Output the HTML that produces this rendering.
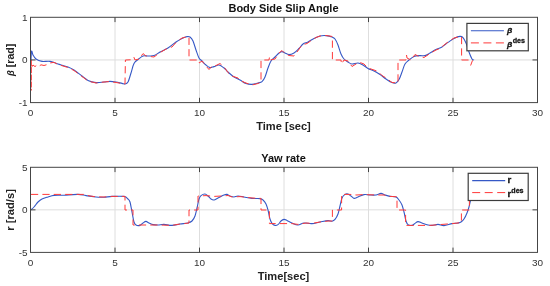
<!DOCTYPE html>
<html><head><meta charset="utf-8"><title>plot</title>
<style>
html,body{margin:0;padding:0;background:#fff;}
svg{display:block}
text{font-family:"Liberation Sans",sans-serif;fill:#222;}
.tk{font-size:9.5px;fill:#333}
.ti{font-size:10px;font-weight:bold;fill:#111}
.lb{font-size:10px;font-weight:bold;fill:#222}
.lg{font-size:8.6px;font-weight:bold;fill:#111;stroke:#111;stroke-width:0.25px}
</style></head><body>
<svg width="550" height="286" viewBox="0 0 550 286">
<rect width="550" height="286" fill="#fff"/>
<line x1="115.0" y1="17.3" x2="115.0" y2="102.6" stroke="#dedede" stroke-width="1"/>
<line x1="199.5" y1="17.3" x2="199.5" y2="102.6" stroke="#dedede" stroke-width="1"/>
<line x1="284.0" y1="17.3" x2="284.0" y2="102.6" stroke="#dedede" stroke-width="1"/>
<line x1="368.5" y1="17.3" x2="368.5" y2="102.6" stroke="#dedede" stroke-width="1"/>
<line x1="453.0" y1="17.3" x2="453.0" y2="102.6" stroke="#dedede" stroke-width="1"/>
<line x1="30.5" y1="59.949999999999996" x2="537.5" y2="59.949999999999996" stroke="#dedede" stroke-width="1"/>
<clipPath id="c1"><rect x="30.5" y="17.3" width="507.0" height="85.3"/></clipPath>
<g clip-path="url(#c1)" fill="none" stroke-linejoin="round">
<path d="M31.0,60.0C31.1,58.7 31.2,53.4 31.4,52.0C31.6,50.6 31.7,51.0 32.0,51.5C32.3,52.0 32.3,53.8 33.0,55.0C33.7,56.2 34.5,57.9 36.0,59.0C37.5,60.1 39.7,61.0 42.0,61.4C44.3,61.8 47.3,61.0 50.0,61.4C52.7,61.8 55.0,63.1 58.0,64.0C61.0,64.9 65.3,66.0 68.0,67.0C70.7,68.0 71.7,68.5 74.0,70.0C76.3,71.5 79.7,74.3 82.0,76.0C84.3,77.7 85.7,79.3 88.0,80.4C90.3,81.5 93.3,82.3 96.0,82.6C98.7,82.9 101.7,82.2 104.0,82.0C106.3,81.8 108.0,81.4 110.0,81.4C112.0,81.4 114.0,81.7 116.0,82.0C118.0,82.3 120.5,83.1 122.0,83.4C123.5,83.7 124.0,84.2 125.0,84.0C126.0,83.8 127.0,83.8 128.0,82.0C129.0,80.2 130.0,76.1 131.0,73.0C132.0,69.9 132.8,65.7 134.0,63.5C135.2,61.3 136.5,60.9 138.0,59.6C139.5,58.4 141.3,56.6 143.0,56.0C144.7,55.4 146.2,56.1 148.0,56.0C149.8,55.9 152.0,56.3 154.0,55.6C156.0,54.9 157.7,53.3 160.0,52.0C162.3,50.7 165.3,49.7 168.0,48.0C170.7,46.3 173.7,43.6 176.0,42.0C178.3,40.4 180.2,39.3 182.0,38.4C183.8,37.5 185.7,36.8 187.0,36.6C188.3,36.4 189.0,36.3 190.0,37.0C191.0,37.7 192.0,38.8 193.0,41.0C194.0,43.2 195.0,47.2 196.0,50.0C197.0,52.8 198.0,56.2 199.0,58.0C200.0,59.8 200.8,59.8 202.0,61.0C203.2,62.2 204.7,63.9 206.0,65.0C207.3,66.1 208.7,67.3 210.0,67.6C211.3,67.9 212.5,67.0 214.0,66.6C215.5,66.2 217.3,64.8 219.0,65.0C220.7,65.2 222.5,66.8 224.0,68.0C225.5,69.2 226.3,70.5 228.0,72.0C229.7,73.5 232.0,75.7 234.0,77.0C236.0,78.3 238.0,78.9 240.0,80.0C242.0,81.1 244.0,82.9 246.0,83.6C248.0,84.3 250.0,84.5 252.0,84.4C254.0,84.3 256.3,83.5 258.0,83.0C259.7,82.5 260.8,82.6 262.0,81.6C263.2,80.6 264.0,79.3 265.0,77.0C266.0,74.7 267.0,70.7 268.0,68.0C269.0,65.3 269.8,62.8 271.0,61.0C272.2,59.2 273.7,58.3 275.0,57.0C276.3,55.7 277.8,53.9 279.0,53.0C280.2,52.1 281.0,51.6 282.0,51.6C283.0,51.6 283.8,52.5 285.0,53.0C286.2,53.5 287.5,54.6 289.0,54.6C290.5,54.6 292.3,54.0 294.0,53.0C295.7,52.0 297.5,50.0 299.0,48.5C300.5,47.0 301.5,45.1 303.0,44.0C304.5,42.9 306.2,42.9 308.0,42.0C309.8,41.1 312.0,39.4 314.0,38.4C316.0,37.4 318.0,36.5 320.0,36.0C322.0,35.5 324.0,35.4 326.0,35.6C328.0,35.8 330.5,36.4 332.0,37.0C333.5,37.6 334.0,37.7 335.0,39.0C336.0,40.3 337.0,42.5 338.0,45.0C339.0,47.5 340.0,51.7 341.0,54.0C342.0,56.3 342.8,57.7 344.0,59.0C345.2,60.3 346.7,61.2 348.0,62.0C349.3,62.8 350.3,63.8 352.0,64.0C353.7,64.2 356.2,62.8 358.0,63.0C359.8,63.2 361.3,64.1 363.0,65.0C364.7,65.9 366.2,67.4 368.0,68.4C369.8,69.4 372.0,70.0 374.0,71.0C376.0,72.0 378.0,73.2 380.0,74.5C382.0,75.8 384.0,77.7 386.0,79.0C388.0,80.3 390.3,81.9 392.0,82.6C393.7,83.3 394.8,83.5 396.0,83.0C397.2,82.5 398.0,81.4 399.0,79.6C400.0,77.8 401.0,74.6 402.0,72.0C403.0,69.4 403.8,66.0 405.0,64.0C406.2,62.0 407.5,61.3 409.0,60.0C410.5,58.7 412.2,57.1 414.0,56.4C415.8,55.7 418.2,55.7 420.0,55.6C421.8,55.5 423.3,56.0 425.0,55.6C426.7,55.2 428.2,54.0 430.0,53.0C431.8,52.0 434.0,50.6 436.0,49.6C438.0,48.6 440.0,48.2 442.0,47.0C444.0,45.8 446.0,43.8 448.0,42.4C450.0,41.0 452.0,39.4 454.0,38.4C456.0,37.4 458.5,36.5 460.0,36.4C461.5,36.3 462.0,36.5 463.0,37.6C464.0,38.7 465.0,40.6 466.0,43.0C467.0,45.4 468.0,49.3 469.0,52.0C470.0,54.7 471.2,57.7 472.0,59.0C472.8,60.3 473.7,59.8 474.0,60.0" stroke="#3558c6" stroke-width="1.1"/>
<path d="M31.3,67.5L33.0,65.0L35.0,66.6L37.0,65.0L39.0,66.2L41.0,64.8L44.0,65.5L47.0,64.6L50.0,63.0L54.0,62.3L58.0,64.5L68.0,67.5L74.0,70.5L82.0,76.5L88.0,81.0L96.0,83.0L104.0,82.0L110.0,81.5L116.0,82.5L125.0,84.0L125.4,60.0L133.0,59.7L134.0,57.5L135.0,60.0L139.0,59.0L143.0,53.6L146.0,56.0L154.0,57.0L160.0,52.5L168.0,48.0L172.0,47.0L176.0,42.5L182.0,38.0L187.0,36.8L189.0,36.8L189.0,60.0L198.0,60.0L199.0,63.0L202.0,61.0L206.0,66.0L209.0,69.5L212.0,66.0L216.0,65.5L220.0,63.5L224.0,67.0L228.0,72.5L232.0,76.0L238.0,78.0L240.0,80.5L246.0,83.0L252.0,85.0L258.0,83.5L261.0,82.0L261.0,60.0L269.0,60.0L269.5,57.0L270.0,60.0L275.0,59.0L279.0,53.0L282.0,50.5L285.0,53.5L289.0,55.5L294.0,56.0L297.0,52.0L302.0,45.0L307.0,43.5L312.0,40.0L316.0,37.5L320.0,36.0L326.0,35.5L332.4,36.5L332.4,60.0L341.0,60.0L341.5,64.0L344.0,60.0L348.0,61.0L352.0,66.5L356.0,64.0L360.0,62.5L364.0,64.0L368.0,68.0L374.0,70.0L378.0,71.5L382.0,75.5L386.0,78.0L392.0,82.5L398.0,83.0L398.0,60.0L406.0,60.0L406.5,55.0L407.0,58.0L411.0,60.0L415.0,54.5L418.0,56.0L424.0,57.5L430.0,53.5L436.0,50.0L440.0,48.5L444.0,45.0L448.0,42.0L454.0,38.0L460.0,36.5L461.6,36.5L461.6,60.0L468.0,60.0L472.6,60.2L470.6,65.5" stroke="#ff3838" stroke-width="1" stroke-dasharray="7.2 4.2"/>
<path d="M31.3,60L31.3,90.5" stroke="#ff3838" stroke-width="1.1" stroke-dasharray="6 1.2"/>
</g>
<rect x="30.5" y="17.3" width="507.0" height="85.3" fill="none" stroke="#454545" stroke-width="1"/>
<line x1="115.0" y1="17.3" x2="115.0" y2="22.1" stroke="#454545" stroke-width="1"/>
<line x1="115.0" y1="102.6" x2="115.0" y2="97.8" stroke="#454545" stroke-width="1"/>
<line x1="199.5" y1="17.3" x2="199.5" y2="22.1" stroke="#454545" stroke-width="1"/>
<line x1="199.5" y1="102.6" x2="199.5" y2="97.8" stroke="#454545" stroke-width="1"/>
<line x1="284.0" y1="17.3" x2="284.0" y2="22.1" stroke="#454545" stroke-width="1"/>
<line x1="284.0" y1="102.6" x2="284.0" y2="97.8" stroke="#454545" stroke-width="1"/>
<line x1="368.5" y1="17.3" x2="368.5" y2="22.1" stroke="#454545" stroke-width="1"/>
<line x1="368.5" y1="102.6" x2="368.5" y2="97.8" stroke="#454545" stroke-width="1"/>
<line x1="453.0" y1="17.3" x2="453.0" y2="22.1" stroke="#454545" stroke-width="1"/>
<line x1="453.0" y1="102.6" x2="453.0" y2="97.8" stroke="#454545" stroke-width="1"/>
<line x1="30.5" y1="59.949999999999996" x2="35.5" y2="59.949999999999996" stroke="#454545" stroke-width="1"/>
<line x1="537.5" y1="59.949999999999996" x2="532.5" y2="59.949999999999996" stroke="#454545" stroke-width="1"/>
<text transform="translate(30.5,116.0) scale(1.05,1)" text-anchor="middle" class="tk">0</text>
<text transform="translate(115.0,116.0) scale(1.05,1)" text-anchor="middle" class="tk">5</text>
<text transform="translate(199.5,116.0) scale(1.05,1)" text-anchor="middle" class="tk">10</text>
<text transform="translate(284.0,116.0) scale(1.05,1)" text-anchor="middle" class="tk">15</text>
<text transform="translate(368.5,116.0) scale(1.05,1)" text-anchor="middle" class="tk">20</text>
<text transform="translate(453.0,116.0) scale(1.05,1)" text-anchor="middle" class="tk">25</text>
<text transform="translate(537.5,116.0) scale(1.05,1)" text-anchor="middle" class="tk">30</text>
<text transform="translate(27.5,20.7) scale(1.05,1)" text-anchor="end" class="tk">1</text>
<text transform="translate(27.5,63.3) scale(1.05,1)" text-anchor="end" class="tk">0</text>
<text transform="translate(27.5,106.0) scale(1.05,1)" text-anchor="end" class="tk">-1</text>
<text transform="translate(283.5,12.3) scale(1.1,1)" text-anchor="middle" class="ti">Body Side Slip Angle</text>
<text transform="translate(283.5,129.5) scale(1.11,1)" text-anchor="middle" class="lb">Time [sec]</text>
<text transform="translate(13.6,59.9) rotate(-90) scale(1.05,1.1)" text-anchor="middle" class="lb"><tspan font-style="italic" font-size="9">β</tspan> [rad]</text>
<rect x="466.9" y="23.4" width="61.4" height="27.4" fill="#fff" stroke="#3c3c3c" stroke-width="1.2"/>
<line x1="470.9" y1="30.8" x2="503.9" y2="30.8" stroke="#3558c6" stroke-width="1.1"/>
<line x1="470.9" y1="42.9" x2="503.9" y2="42.9" stroke="#ff3838" stroke-width="1" stroke-dasharray="8 4.5"/>
<text transform="translate(506.2, 33.4) scale(1.13,1)" class="lg"><tspan font-style="italic" font-size="7.6" dx="0.8">β</tspan></text>
<text transform="translate(506.2, 47.0) scale(1.13,1)" class="lg"><tspan font-style="italic" font-size="7.6" dx="0.8">β</tspan><tspan dy="-3.6" dx="0.3" font-size="6.3">des</tspan></text>
<line x1="115.0" y1="167.3" x2="115.0" y2="252.4" stroke="#dedede" stroke-width="1"/>
<line x1="199.5" y1="167.3" x2="199.5" y2="252.4" stroke="#dedede" stroke-width="1"/>
<line x1="284.0" y1="167.3" x2="284.0" y2="252.4" stroke="#dedede" stroke-width="1"/>
<line x1="368.5" y1="167.3" x2="368.5" y2="252.4" stroke="#dedede" stroke-width="1"/>
<line x1="453.0" y1="167.3" x2="453.0" y2="252.4" stroke="#dedede" stroke-width="1"/>
<line x1="30.5" y1="209.85000000000002" x2="537.5" y2="209.85000000000002" stroke="#dedede" stroke-width="1"/>
<clipPath id="c2"><rect x="30.5" y="167.3" width="507.0" height="85.1"/></clipPath>
<g clip-path="url(#c2)" fill="none" stroke-linejoin="round">
<path d="M30.6,210.0C31.2,209.5 32.8,208.3 34.0,207.0C35.2,205.7 36.7,203.3 38.0,202.0C39.3,200.7 40.3,199.8 42.0,199.0C43.7,198.2 46.0,197.6 48.0,197.0C50.0,196.4 51.3,195.7 54.0,195.4C56.7,195.1 60.0,195.4 64.0,195.2C68.0,195.0 74.3,194.3 78.0,194.4C81.7,194.5 83.0,195.2 86.0,195.6C89.0,196.0 93.0,196.7 96.0,197.0C99.0,197.3 101.3,197.3 104.0,197.2C106.7,197.1 108.7,196.5 112.0,196.4C115.3,196.3 121.3,196.0 124.0,196.4C126.7,196.8 127.0,198.1 128.0,199.0C129.0,199.9 129.3,199.8 130.0,202.0C130.7,204.2 131.3,208.7 132.0,212.0C132.7,215.3 133.3,219.8 134.0,222.0C134.7,224.2 135.0,224.4 136.0,225.0C137.0,225.6 138.8,225.7 140.0,225.4C141.2,225.1 142.0,223.7 143.0,223.0C144.0,222.3 145.0,221.4 146.0,221.4C147.0,221.4 147.8,222.5 149.0,223.0C150.2,223.5 151.5,224.3 153.0,224.6C154.5,224.9 156.2,225.0 158.0,225.0C159.8,225.0 161.7,224.3 164.0,224.4C166.3,224.5 169.3,225.5 172.0,225.4C174.7,225.3 177.3,224.4 180.0,224.0C182.7,223.6 186.0,223.5 188.0,223.0C190.0,222.5 190.8,222.2 192.0,221.0C193.2,219.8 194.2,218.2 195.0,216.0C195.8,213.8 196.3,210.8 197.0,208.0C197.7,205.2 198.3,201.1 199.0,199.0C199.7,196.9 200.0,196.4 201.0,195.6C202.0,194.8 203.8,193.9 205.0,194.0C206.2,194.1 207.0,195.2 208.0,196.0C209.0,196.8 210.0,198.3 211.0,199.0C212.0,199.7 212.8,200.2 214.0,200.0C215.2,199.8 216.3,198.8 218.0,198.0C219.7,197.2 222.5,195.6 224.0,195.0C225.5,194.4 226.0,194.2 227.0,194.4C228.0,194.6 228.8,195.6 230.0,196.0C231.2,196.4 232.7,197.0 234.0,197.0C235.3,197.0 236.3,196.0 238.0,196.0C239.7,196.0 241.7,196.6 244.0,197.0C246.3,197.4 249.3,198.1 252.0,198.4C254.7,198.7 258.2,198.3 260.0,198.6C261.8,198.9 262.0,199.1 263.0,200.0C264.0,200.9 265.2,202.3 266.0,204.0C266.8,205.7 267.3,207.5 268.0,210.0C268.7,212.5 269.3,216.8 270.0,219.0C270.7,221.2 271.2,222.3 272.0,223.4C272.8,224.5 274.0,225.2 275.0,225.4C276.0,225.6 277.0,225.3 278.0,224.6C279.0,223.9 280.0,221.9 281.0,221.0C282.0,220.1 283.0,219.5 284.0,219.4C285.0,219.3 285.7,219.8 287.0,220.4C288.3,221.0 290.2,222.2 292.0,223.0C293.8,223.8 296.0,225.0 298.0,225.0C300.0,225.0 301.7,223.2 304.0,223.0C306.3,222.8 309.3,223.8 312.0,223.6C314.7,223.4 317.3,222.5 320.0,222.0C322.7,221.5 326.0,220.7 328.0,220.6C330.0,220.5 330.8,221.4 332.0,221.2C333.2,221.0 334.0,220.6 335.0,219.4C336.0,218.2 337.2,216.2 338.0,214.0C338.8,211.8 339.3,208.7 340.0,206.0C340.7,203.3 341.2,199.9 342.0,198.0C342.8,196.1 344.0,195.1 345.0,194.4C346.0,193.7 347.0,193.7 348.0,194.0C349.0,194.3 350.0,195.3 351.0,196.0C352.0,196.7 352.8,198.2 354.0,198.4C355.2,198.6 356.3,197.6 358.0,197.0C359.7,196.4 362.0,194.9 364.0,194.6C366.0,194.3 368.0,194.9 370.0,195.0C372.0,195.1 374.2,195.3 376.0,195.0C377.8,194.7 379.5,193.4 381.0,193.4C382.5,193.4 383.5,194.5 385.0,195.0C386.5,195.5 388.2,196.1 390.0,196.4C391.8,196.7 394.5,196.4 396.0,197.0C397.5,197.6 398.0,198.7 399.0,200.0C400.0,201.3 401.2,203.0 402.0,205.0C402.8,207.0 403.3,209.3 404.0,212.0C404.7,214.7 405.3,218.9 406.0,221.0C406.7,223.1 407.0,223.9 408.0,224.6C409.0,225.3 410.8,225.6 412.0,225.4C413.2,225.2 414.0,224.0 415.0,223.4C416.0,222.8 416.8,221.7 418.0,221.6C419.2,221.5 420.3,222.4 422.0,223.0C423.7,223.6 426.3,224.6 428.0,225.0C429.7,225.4 430.3,225.5 432.0,225.4C433.7,225.3 436.0,224.4 438.0,224.4C440.0,224.4 441.7,225.7 444.0,225.6C446.3,225.5 449.7,224.0 452.0,223.6C454.3,223.2 456.5,223.3 458.0,223.0C459.5,222.7 460.0,222.7 461.0,222.0C462.0,221.3 463.0,220.5 464.0,219.0C465.0,217.5 466.2,215.0 467.0,213.0C467.8,211.0 468.4,209.0 469.0,207.0C469.6,205.0 469.9,202.7 470.4,201.0C470.9,199.3 471.2,198.0 472.0,197.0C472.8,196.0 474.5,195.3 475.0,195.0" stroke="#3558c6" stroke-width="1.1"/>
<path d="M31.0,194.4L84.0,194.4L90.0,196.0L96.0,196.8L104.0,197.0L112.0,196.4L125.0,196.4L125.0,210.0L133.0,210.0L133.0,225.0L148.0,225.0L160.0,225.0L172.0,225.4L180.0,224.0L189.0,223.0L189.0,210.0L198.0,210.0L198.0,196.0L206.0,195.6L214.0,196.4L222.0,196.0L228.0,195.5L232.0,197.0L240.0,196.6L252.0,198.0L261.0,198.4L261.0,210.0L269.4,210.0L269.4,223.6L286.0,223.6L292.0,223.6L298.0,224.4L306.0,223.0L312.0,223.4L320.0,222.0L328.0,221.0L332.4,221.0L332.4,210.0L341.6,210.0L341.6,194.4L350.0,194.4L356.0,195.0L364.0,194.6L376.0,195.0L384.0,195.0L390.0,196.4L397.0,196.8L397.0,210.0L405.6,210.0L405.6,225.4L420.0,225.4L430.0,225.4L440.0,224.6L452.0,223.6L461.4,222.6L461.4,210.0L469.4,210.0L469.4,196.0L476.0,195.5" stroke="#ff3838" stroke-width="1" stroke-dasharray="7.2 4.2"/>
</g>
<rect x="30.5" y="167.3" width="507.0" height="85.1" fill="none" stroke="#454545" stroke-width="1"/>
<line x1="115.0" y1="167.3" x2="115.0" y2="172.10000000000002" stroke="#454545" stroke-width="1"/>
<line x1="115.0" y1="252.4" x2="115.0" y2="247.6" stroke="#454545" stroke-width="1"/>
<line x1="199.5" y1="167.3" x2="199.5" y2="172.10000000000002" stroke="#454545" stroke-width="1"/>
<line x1="199.5" y1="252.4" x2="199.5" y2="247.6" stroke="#454545" stroke-width="1"/>
<line x1="284.0" y1="167.3" x2="284.0" y2="172.10000000000002" stroke="#454545" stroke-width="1"/>
<line x1="284.0" y1="252.4" x2="284.0" y2="247.6" stroke="#454545" stroke-width="1"/>
<line x1="368.5" y1="167.3" x2="368.5" y2="172.10000000000002" stroke="#454545" stroke-width="1"/>
<line x1="368.5" y1="252.4" x2="368.5" y2="247.6" stroke="#454545" stroke-width="1"/>
<line x1="453.0" y1="167.3" x2="453.0" y2="172.10000000000002" stroke="#454545" stroke-width="1"/>
<line x1="453.0" y1="252.4" x2="453.0" y2="247.6" stroke="#454545" stroke-width="1"/>
<line x1="30.5" y1="209.85000000000002" x2="35.5" y2="209.85000000000002" stroke="#454545" stroke-width="1"/>
<line x1="537.5" y1="209.85000000000002" x2="532.5" y2="209.85000000000002" stroke="#454545" stroke-width="1"/>
<text transform="translate(30.5,265.8) scale(1.05,1)" text-anchor="middle" class="tk">0</text>
<text transform="translate(115.0,265.8) scale(1.05,1)" text-anchor="middle" class="tk">5</text>
<text transform="translate(199.5,265.8) scale(1.05,1)" text-anchor="middle" class="tk">10</text>
<text transform="translate(284.0,265.8) scale(1.05,1)" text-anchor="middle" class="tk">15</text>
<text transform="translate(368.5,265.8) scale(1.05,1)" text-anchor="middle" class="tk">20</text>
<text transform="translate(453.0,265.8) scale(1.05,1)" text-anchor="middle" class="tk">25</text>
<text transform="translate(537.5,265.8) scale(1.05,1)" text-anchor="middle" class="tk">30</text>
<text transform="translate(27.5,170.7) scale(1.05,1)" text-anchor="end" class="tk">5</text>
<text transform="translate(27.5,213.3) scale(1.05,1)" text-anchor="end" class="tk">0</text>
<text transform="translate(27.5,255.8) scale(1.05,1)" text-anchor="end" class="tk">-5</text>
<text transform="translate(283.5,162.3) scale(1.1,1)" text-anchor="middle" class="ti">Yaw rate</text>
<text transform="translate(283.5,280.0) scale(1.11,1)" text-anchor="middle" class="lb">Time[sec]</text>
<text transform="translate(13.6,209.9) rotate(-90) scale(1.12,1.1)" text-anchor="middle" class="lb">r [rad/s]</text>
<rect x="468.2" y="173.3" width="60" height="27.2" fill="#fff" stroke="#3c3c3c" stroke-width="1.2"/>
<line x1="472.2" y1="180.6" x2="505.2" y2="180.6" stroke="#3558c6" stroke-width="1.1"/>
<line x1="472.2" y1="192.6" x2="505.2" y2="192.6" stroke="#ff3838" stroke-width="1" stroke-dasharray="8 4.5"/>
<text transform="translate(507.5, 183.2) scale(1.13,1)" class="lg">r</text>
<text transform="translate(507.5, 196.7) scale(1.13,1)" class="lg">r<tspan dy="-3.6" font-size="6.3">des</tspan></text>
</svg>
</body></html>
